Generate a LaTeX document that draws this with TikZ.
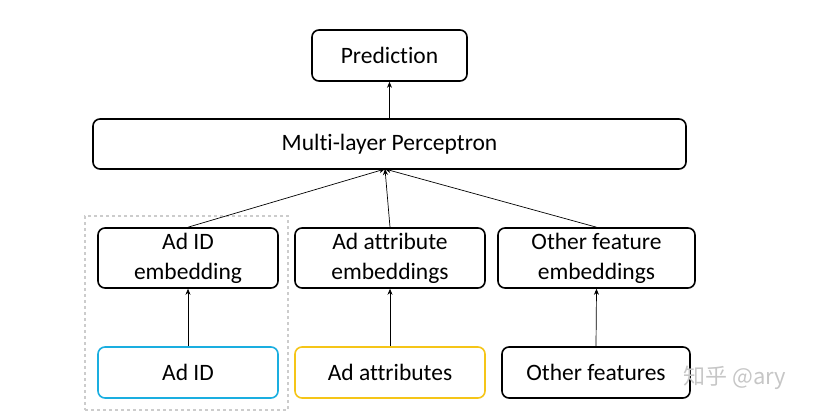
\documentclass[tikz,border=0pt]{standalone}
\usepackage{fontspec}
\setmainfont[Ligatures={NoCommon}]{Carlito}
\newfontfamily\cjk{Noto Sans CJK SC}
\usetikzlibrary{arrows.meta}
\definecolor{idblue}{HTML}{1AAEE0}
\definecolor{attyel}{HTML}{F5C518}
\begin{document}
\begin{tikzpicture}[x=1pt,y=-1pt,
  box/.style={draw=black,line width=1.6pt,rounded corners=7pt,align=center,font=\fontsize{23.5}{30}\selectfont,inner sep=0pt},
  arr/.style={-{Stealth[length=6pt,width=5pt]},line width=0.7pt}]
\useasboundingbox (0,0) rectangle (814,416);
\node[draw=gray!40,dashed,line width=1.2pt,minimum width=203pt,minimum height=194pt,inner sep=0pt] (dash) at (186.5,313) {};
\node[box,minimum width=155pt,minimum height=51pt] (pred) at (389.5,55.5) {Prediction};
\node[box,minimum width=593pt,minimum height=50pt] (mlp) at (389.5,144) {Multi-layer Perceptron};
\node[box,minimum width=180pt,minimum height=60pt] (ide) at (188,258) {Ad ID\\embedding};
\node[box,minimum width=190pt,minimum height=60pt] (ate) at (390,258) {Ad attribute\\embeddings};
\node[box,minimum width=197pt,minimum height=60pt] (ofe) at (596.5,258) {Other feature\\embeddings};
\node[box,draw=idblue,minimum width=180pt,minimum height=51pt] (id) at (188,372.5) {Ad ID};
\node[box,draw=attyel,minimum width=190pt,minimum height=51pt] (at) at (390,372.5) {Ad attributes};
\node[box,minimum width=188pt,minimum height=51pt] (of) at (596,372.5) {Other features};
\coordinate (m) at (385,169);
\draw[arr] (mlp.north) -- (pred.south);
\draw[arr] (ide.north) -- (m);
\draw[arr] (ate.north) -- (m);
\draw[arr] (ofe.north) -- (m);
\draw[arr] (id.north) -- (ide.south);
\draw[arr] (at.north) -- (ate.south);
\draw[arr] (of.north) -- (ofe.south);
\node[text=gray!45,font=\cjk\fontsize{22}{26}\selectfont] (wm) at (735,378) {知乎 @ary};
\end{tikzpicture}
\end{document}
